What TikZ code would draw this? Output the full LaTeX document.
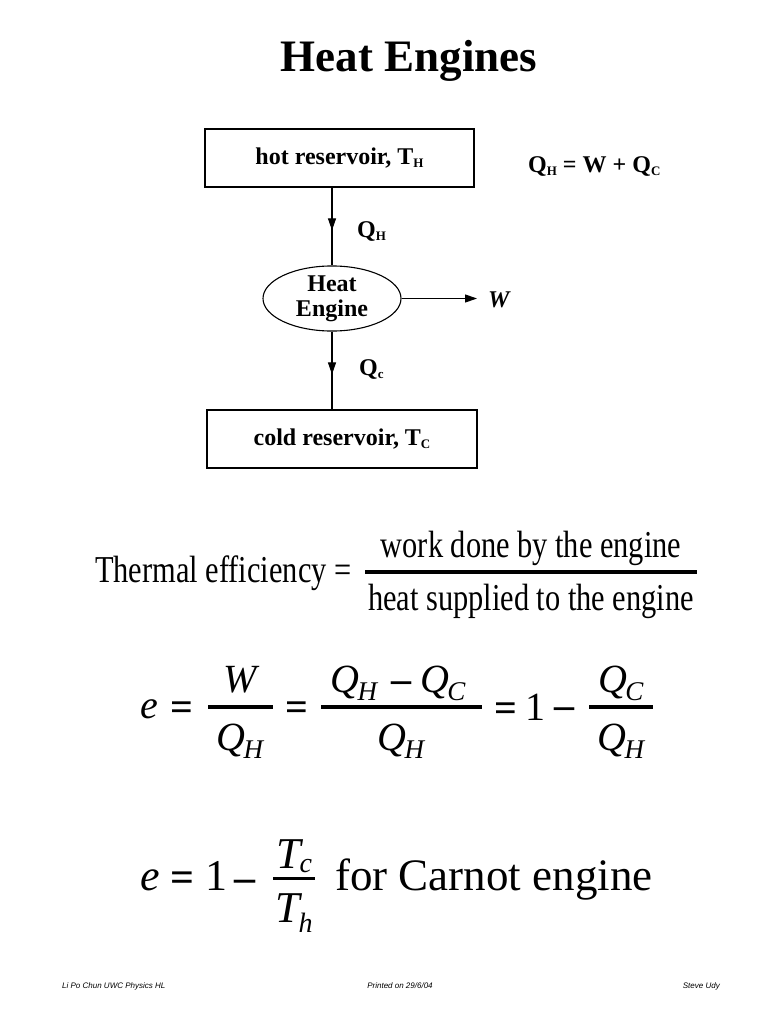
\documentclass[tikz,border=0pt]{standalone}
\usepackage{fontspec}
\setmainfont{Liberation Serif}
\newfontfamily\footfont{Liberation Sans}
\usetikzlibrary{arrows.meta,shapes.geometric,calc}
\newcommand\sz[1]{\fontsize{#1}{#1}\selectfont}
\newcommand\dsub[1]{\raisebox{-3pt}{\sz{13}#1}}
\newcommand\msub[1]{\kern-2pt\raisebox{-8pt}{\sz{27}\itshape #1}}
\newcommand\QH{\textit{Q}\msub{H}}
\newcommand\QC{\textit{Q}\msub{C}}
\newcommand\mminus{\textbf{\char"2013}}
\tikzset{
  ln/.style={line width=1.1pt},
  box/.style={draw, line width=1.1pt, inner sep=0pt, minimum width=269pt, minimum height=58pt, font=\sz{24}\bfseries},
  eng/.style={draw, ellipse, line width=1.1pt, inner sep=0pt, minimum width=138pt, minimum height=65pt, align=center, font=\fontsize{24}{25}\selectfont\bfseries},
  lab/.style={anchor=base west, inner sep=0pt, font=\sz{24}\bfseries},
  tip/.style={-{Triangle[length=12pt,width=8pt]}},
  eq/.style={anchor=base, inner sep=0pt, font=\rmfamily\sz{40}},
  sym/.style={anchor=base, inner sep=0pt, font=\rmfamily\bfseries\sz{40}},
  eqc/.style={anchor=base, inner sep=0pt, font=\rmfamily\sz{44}},
  symc/.style={anchor=base, inner sep=0pt, font=\rmfamily\bfseries\sz{42}},
  bar/.style={line width=3.5pt},
  foot/.style={anchor=base, inner sep=0pt, font=\footfont\itshape\sz{8}}
}
\begin{document}
\begin{tikzpicture}[x=1pt,y=-1pt]
\useasboundingbox[fill=white] (0,0) rectangle (768,1024);
% title
\node[anchor=base, inner sep=0pt] (title) at (409,72) {\sz{45}\bfseries Heat Engines};
% diagram
\node[box] (hot) at (339.5,158) {hot reservoir, T\dsub{H}};
\node[box, minimum width=270pt] (cold) at (342,439) {cold reservoir, T\dsub{C}};
\node[eng] (engine) at (332,298.5) {Heat\\Engine};
\node[lab] (qhl) at (357,237) {Q\dsub{H}};
\node[lab] (qcl) at (359,375) {Q\dsub{c}};
\node[lab, inner xsep=11pt, anchor=base west] (wl) at (477,307) {\itshape W};
\node[lab] (bal) at (528,173) {Q\dsub{H} = W + Q\dsub{C}};
\coordinate (a1) at (hot.south -| engine.north);
\draw[ln] (a1) -- (engine.north);
\draw[ln, tip] (a1) -- ($(a1)!0.55!(engine.north)$);
\coordinate (a2) at (cold.north -| engine.south);
\draw[ln] (engine.south) -- (a2);
\draw[ln, tip] (engine.south) -- ($(engine.south)!0.55!(a2)$);
\draw[ln, tip] (engine.east) -- (wl.west |- engine.east);
% thermal efficiency
\node[anchor=base west, inner sep=0pt] (te) at (95,582) {\scalebox{0.8}[1]{\sz{38}Thermal efficiency =}};
\node[anchor=base, inner sep=0pt] (ten) at (531,557) {\scalebox{0.8}[1]{\sz{38}work done by the engine}};
\node[anchor=base, inner sep=0pt] (ted) at (531,610) {\scalebox{0.8}[1]{\sz{38}heat supplied to the engine}};
\draw[line width=4pt] (365,572) -- (697,572);
% e = W/QH = ...
\node[eq] (e1) at (149,718) {\itshape e};
\node[sym] (eq1) at (182,720) {=};
\node[eq] (n1) at (240,692) {\itshape W};
\draw[bar] (208,707) -- (273,707);
\node[eq] (d1) at (240,750) {\QH};
\node[sym] (eq2) at (297,720) {=};
\node[eq] (n2) at (398,692) {\QH\hspace{14pt}\mminus\hspace{9pt}\QC};
\draw[bar] (321,707) -- (482,707);
\node[eq] (d2) at (401,750) {\QH};
\node[sym] (eq3) at (506,721) {=};
\node[eq] (one1) at (535,720) {1};
\node[sym] (mi1) at (565,718) {\mminus};
\node[eq] (n3) at (621,692) {\QC};
\draw[bar] (589,707) -- (653,707);
\node[eq] (d3) at (621,750) {\QH};
% Carnot
\node[eqc] (e2) at (150,890) {\itshape e};
\node[symc] (eq4) at (182,891) {=};
\node[eqc] (one2) at (216,890) {1};
\node[symc] (mi2) at (245,891) {\mminus};
\node[eqc] (tc) at (294,868) {\itshape T\kern-1pt\raisebox{-4pt}{\sz{28}c}};
\draw[line width=3pt] (273,878) -- (315,878);
\node[eqc] (th) at (294,922) {\itshape T\kern-1pt\raisebox{-10pt}{\sz{28}h}};
\node[anchor=base west, inner sep=0pt] (carnot) at (335,890) {\rmfamily\sz{45}for Carnot engine};
% footer
\node[foot, anchor=base west] (f1) at (62,988) {Li Po Chun UWC Physics HL};
\node[foot] (f2) at (400,988) {Printed on 29/6/04};
\node[foot, anchor=base east] (f3) at (720,988) {Steve Udy};
\end{tikzpicture}
\end{document}
